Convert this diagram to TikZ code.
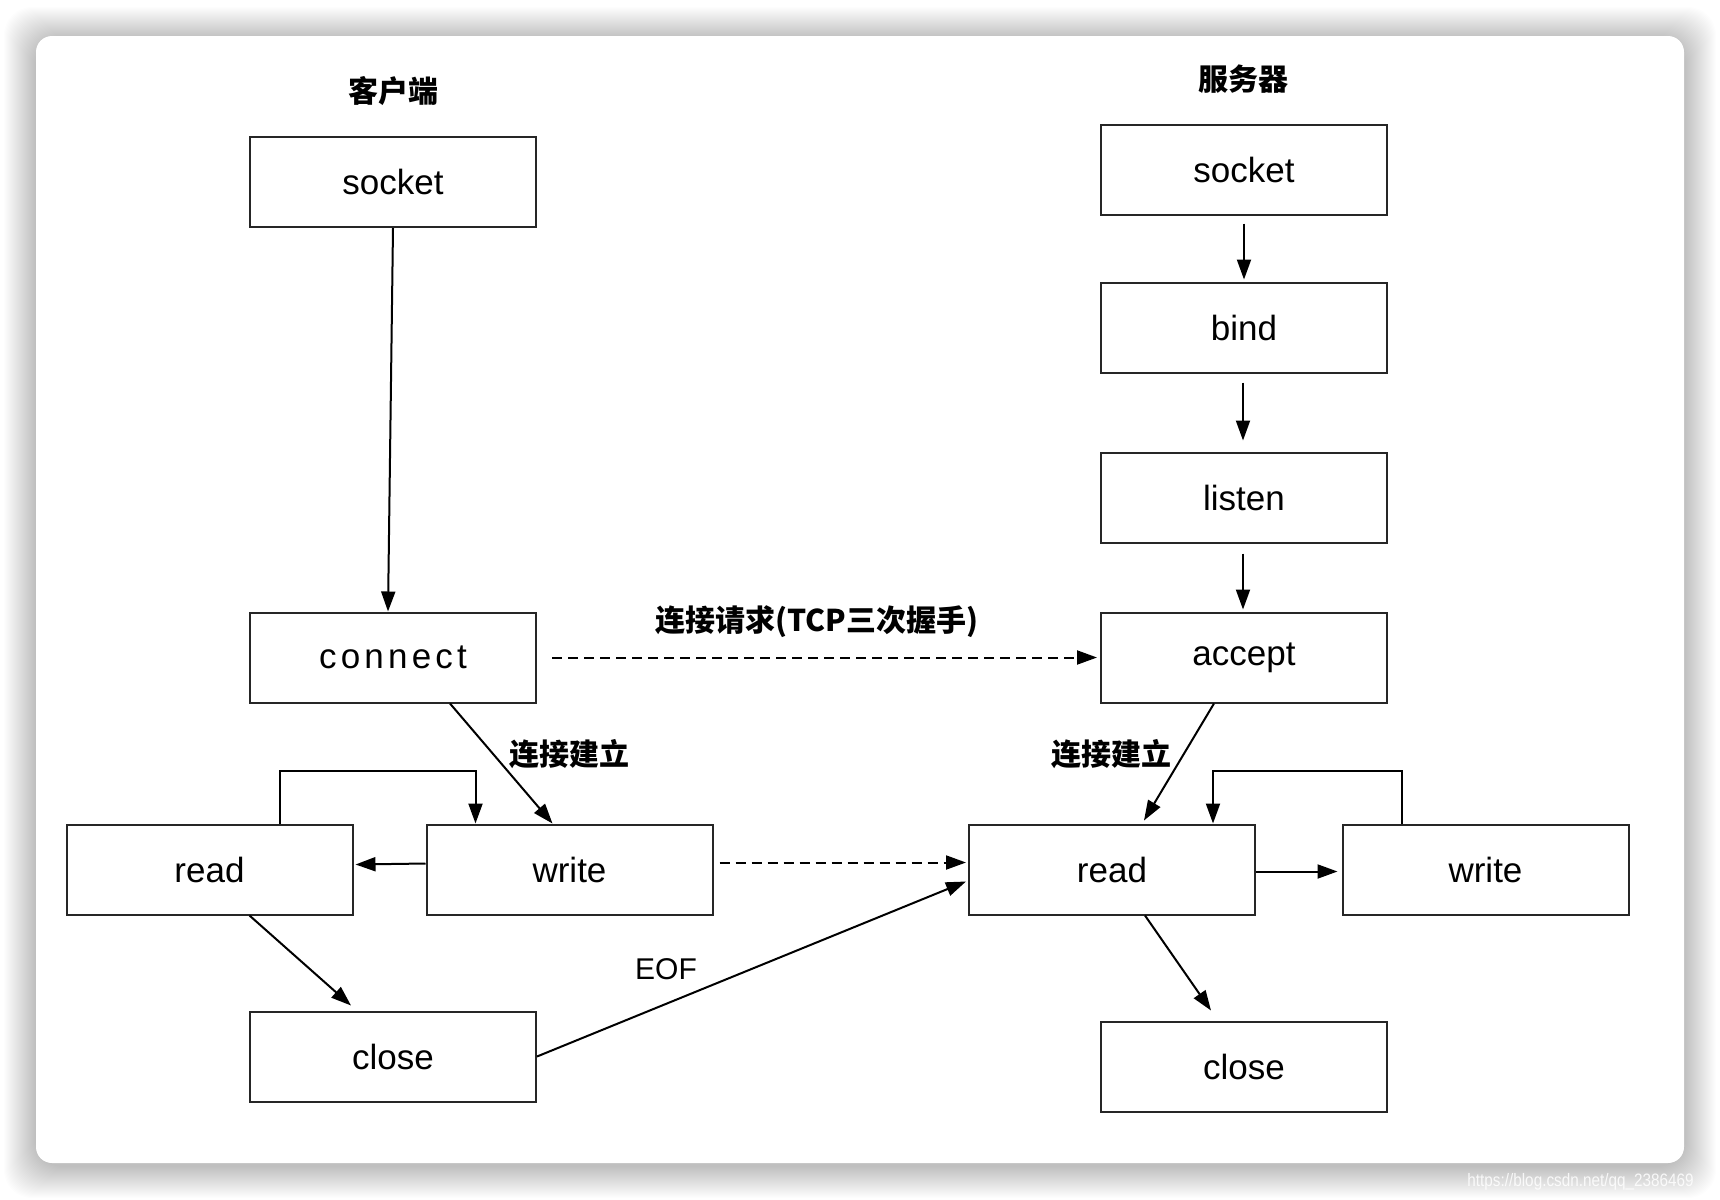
\documentclass[tikz,border=0pt]{standalone}
\usepackage{fontspec}
\setmainfont{Liberation Sans}
\newfontfamily\cjk{Noto Sans CJK SC}
\newfontfamily\wmfont{Liberation Sans}[FakeStretch=0.85]
\usetikzlibrary{arrows.meta,calc}
\begin{document}
\begin{tikzpicture}[x=0.5pt,y=-0.5pt,
  box/.style={draw=black!85,line width=1pt,fill=white,minimum width=143pt,minimum height=45pt,inner sep=0pt,font=\fontsize{17.5}{20}\selectfont},
  arr/.style={line width=1pt,-{Triangle[length=10pt,width=7pt]}},
  dsh/.style={arr,dash pattern=on 5pt off 3pt},
  cn/.style={font=\cjk\bfseries\fontsize{15}{18}\selectfont,inner sep=0pt},
  lbl/.style={font=\fontsize{15}{18}\selectfont,inner sep=0pt}]
\useasboundingbox (0,0) rectangle (1720,1200);
\fill[white] (0,0) rectangle (1720,1200);
% shadow of the card
\foreach \i in {1,...,32}{
  \fill[black,opacity=0.008,rounded corners=14pt] ($(36,39)+(-\i,-\i)$) rectangle ($(1684,1166)+(\i,\i)$);
}
\fill[white,rounded corners=8pt] (36,36) rectangle (1684,1163);
% watermark
\node[anchor=base west,inner sep=0pt,text=white,opacity=0.85,font=\wmfont\fontsize{9}{11}\selectfont] (wm) at (1467,1186) {https://blog.csdn.net/qq\_2386469};
% titles
\node[cn] (tc) at (393,91) {客户端};
\node[cn] (ts) at (1243,79) {服务器};
% client boxes
\node[box] (csock) at (393,182) {socket};
\node[box] (cconn) at (393,657.5) {\addfontfeature{LetterSpace=12}connect};
\node[box] (cread) at (209.5,869.5) {read};
\node[box] (cwrite) at (569.5,869.5) {write};
\node[box] (cclose) at (393,1056.5) {close};
% server boxes
\node[box] (ssock) at (1244,169.5) {socket};
\node[box] (sbind) at (1244,327.5) {bind};
\node[box] (slisten) at (1244,497.5) {listen};
\node[box] (saccept) at (1244,657.5) {accept};
\node[box] (sread) at (1112,869.5) {read};
\node[box] (swrite) at (1485.5,869.5) {write};
\node[box] (sclose) at (1244,1066.5) {close};
% labels
\node[cn] (lreq) at (817,622) {连接请求(TCP三次握手)};
\node[cn] (lc1) at (569,754) {连接建立};
\node[cn] (lc2) at (1111,754) {连接建立};
\node[lbl] (leof) at (666,969) {EOF};
% client arrows
\draw[arr] (csock.south) -- ($(cconn.north)+(-5,0)$);
\draw[arr] ($(cconn.south)+(57,0)$) -- ($(cwrite.north)+(-17,0)$);
\draw[arr] ($(cread.north)+(70,0)$) -- ++(0,-53) -| ($(cwrite.north)+(-94,0)$);
\draw[arr] ($(cwrite.west)+(0,-6)$) -- ($(cread.east)+(2,-5)$);
\draw[arr] ($(cread.south)+(40,0)$) -- ($(cclose.north)+(-42,-5)$);
\draw[arr] (cclose.east) -- ($(sread.west)+(-2,12)$);
% dashed
\draw[dsh] ($(cconn.east)+(15,0)$) -- ($(saccept.west)+(-3,0)$);
\draw[dsh] ($(cwrite.east)+(6,-7)$) -- ($(sread.west)+(-2,-7)$);
% server arrows
\draw[arr] ($(ssock.south)+(0,8)$) -- ($(sbind.north)+(0,-2)$);
\draw[arr] ($(sbind.south)+(-1,9)$) -- ($(slisten.north)+(-1,-11)$);
\draw[arr] ($(slisten.south)+(-1,10)$) -- ($(saccept.north)+(-1,-2)$);
\draw[arr] ($(saccept.south)+(-30,0)$) -- ($(sread.north)+(32,-3)$);
\draw[arr] ($(swrite.north)+(-84,0)$) -- ++(0,-53) -| ($(sread.north)+(101,0)$);
\draw[arr] ($(sread.east)+(0,2)$) -- ($(swrite.west)+(-4,2)$);
\draw[arr] ($(sread.south)+(33,0)$) -- ($(sclose.north)+(-33,-10)$);
\end{tikzpicture}
\end{document}
